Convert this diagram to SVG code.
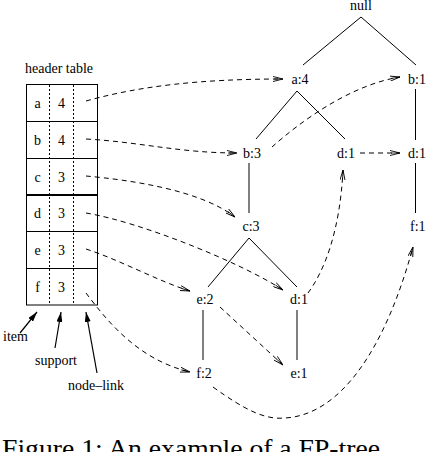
<svg xmlns="http://www.w3.org/2000/svg" width="426" height="452" viewBox="0 0 426 452">
<style>
text{font-family:"Liberation Serif","Times New Roman",serif;font-size:14px;fill:#000}
.m{text-anchor:middle}
.tree{stroke:#000;stroke-width:1;fill:none}
.dash{stroke:#000;stroke-width:1;fill:none;stroke-dasharray:5,4;marker-end:url(#open)}
.lab{stroke:#000;stroke-width:1.2;fill:none;marker-end:url(#fill)}
.cell{fill:#fff;stroke:#000;stroke-width:1}
.dot{stroke:#000;stroke-width:1;stroke-dasharray:2,2}
</style>
<defs>
<marker id="open" viewBox="0 0 10 6" refX="10" refY="3" markerWidth="10" markerHeight="6" orient="auto" markerUnits="userSpaceOnUse">
<path d="M0,0.5 L10,3 L0,5.5" fill="none" stroke="#000" stroke-width="0.9"/>
<path d="M1,3 L9,3" stroke="#000" stroke-width="0.8"/>
</marker>
<marker id="fill" viewBox="0 0 10 6" refX="10" refY="3" markerWidth="10" markerHeight="6" orient="auto" markerUnits="userSpaceOnUse">
<path d="M0,0 L10,3 L0,6 z" fill="#000"/>
</marker>
</defs>
<rect width="426" height="452" fill="#fff"/>

<g id="header-table">
<text x="25" y="73">header table</text>
<rect class="cell" x="26.5" y="84.5" width="71" height="220.5"/>
<line class="tree" x1="26.5" y1="121.5" x2="97.5" y2="121.5"/>
<line class="tree" x1="26.5" y1="158.5" x2="97.5" y2="158.5"/>
<line x1="26.5" y1="195" x2="97.5" y2="195" stroke="#000" stroke-width="2"/>
<line class="tree" x1="26.5" y1="231.5" x2="97.5" y2="231.5"/>
<line class="tree" x1="26.5" y1="268.5" x2="97.5" y2="268.5"/>
<line class="dot" x1="49.5" y1="85" x2="49.5" y2="305"/>
<line class="dot" x1="73.5" y1="85" x2="73.5" y2="305"/>
<text class="m" x="37.5" y="108">a</text><text class="m" x="61.5" y="108">4</text>
<text class="m" x="37.5" y="145">b</text><text class="m" x="61.5" y="145">4</text>
<text class="m" x="37.5" y="181.5">c</text><text class="m" x="61.5" y="181.5">3</text>
<text class="m" x="37.5" y="218">d</text><text class="m" x="61.5" y="218">3</text>
<text class="m" x="37.5" y="255">e</text><text class="m" x="61.5" y="255">3</text>
<text class="m" x="37.5" y="291.5">f</text><text class="m" x="61.5" y="291.5">3</text>
</g>

<g id="label-item"><text x="3" y="341">item</text></g>
<g id="label-support"><text x="35" y="365">support</text></g>
<g id="label-node-link"><text x="68" y="390">node–link</text></g>

<g id="n-null"><text class="m" x="361" y="10">null</text></g>
<g id="n-a4"><text class="m" x="300" y="84">a:4</text></g>
<g id="n-b1"><text x="408" y="84">b:1</text></g>
<g id="n-b3"><text class="m" x="252" y="158">b:3</text></g>
<g id="n-d1a"><text class="m" x="346" y="158">d:1</text></g>
<g id="n-d1b"><text x="408" y="158">d:1</text></g>
<g id="n-c3"><text class="m" x="251" y="231">c:3</text></g>
<g id="n-f1"><text x="410" y="231">f:1</text></g>
<g id="n-e2"><text class="m" x="205" y="304">e:2</text></g>
<g id="n-d1c"><text class="m" x="299" y="304">d:1</text></g>
<g id="n-f2"><text class="m" x="204" y="378">f:2</text></g>
<g id="n-e1"><text class="m" x="299" y="378">e:1</text></g>

<g id="connectors">
<path class="tree" d="M303,65 L361,17 L416,65"/>
<path class="tree" d="M256,139 L297,91 L345,139"/>
<line class="tree" x1="415.5" y1="89" x2="415.5" y2="140"/>
<line class="tree" x1="249" y1="163" x2="249" y2="213"/>
<line class="tree" x1="415.5" y1="163" x2="415.5" y2="213"/>
<path class="tree" d="M208,287 L249,238 L297,287"/>
<line class="tree" x1="203" y1="310" x2="203" y2="360"/>
<line class="tree" x1="297" y1="310" x2="297" y2="360"/>

<path class="dash" d="M86,101 C140,86 200,79 283,79"/>
<path class="dash" d="M86,139 C140,142 180,153 237,153"/>
<path class="dash" d="M86,176 C130,180 200,190 235,217"/>
<path class="dash" d="M86,213 C140,222 240,262 283,290"/>
<path class="dash" d="M86,249 C120,260 160,282 190,291"/>
<path class="dash" d="M86,293 C110,325 140,360 190,372"/>
<path class="dash" d="M272,147 C300,122 350,85 400,77"/>
<path class="dash" d="M360,153 L400,153"/>
<path class="dash" d="M308,293 C325,270 340,230 343,170"/>
<path class="dash" d="M220,307 L283,365"/>
<path class="dash" d="M213,387 C245,410 265,420 285,418 C340,415 385,350 413,247"/>

<line class="lab" x1="20" y1="333" x2="37" y2="312"/>
<line class="lab" x1="55" y1="348" x2="61" y2="312"/>
<line class="lab" x1="97" y1="373" x2="86" y2="312"/>
</g>

<g id="caption"><text x="2" y="457" style="font-size:25px" textLength="378" lengthAdjust="spacingAndGlyphs">Figure 1: An example of a FP-tree</text></g>
</svg>
